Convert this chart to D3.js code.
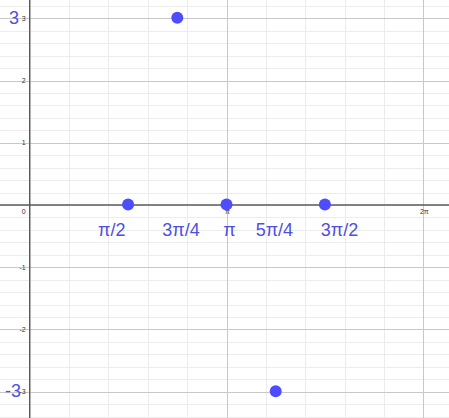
<!DOCTYPE html>
<html>
<head>
<meta charset="utf-8">
<script src="https://cdn.jsdelivr.net/npm/d3@7.9.0/dist/d3.min.js"></script>
<style>
  html, body { margin: 0; padding: 0; background: #fff; }
  svg { display: block; }
</style>
</head>
<body>
<svg id="plot" width="449" height="418"></svg>
<script>
// points, x given as multiples of pi
const pointPi = [0.5, 0.75, 1, 1.25, 1.5];
const pointY = [0, 3, 0, -3, 0];

// text labels placed under the axis (left edge, in multiples of pi)
const labelText = ['π/2', '3π/4', 'π', '5π/4', '3π/2'];
const labelPi = [0.347, 0.674, 0.983, 1.148, 1.479];

// y tick labels
const yTicks = [-3, -2, -1, 1, 2, 3];
const xTickPi = [1, 2];
const xTickText = ['π', '2π'];

const width = 449, height = 418;
const PI = Math.PI;

const x = d3.scaleLinear().domain([0, 2 * PI]).range([29.7, 423.3]);
const y = d3.scaleLinear().domain([0, 3]).range([205, 18.3]);

const svg = d3.select('#plot');

// grid
const xMin = x.invert(0), xMax = x.invert(width);
const yMin = y.invert(height), yMax = y.invert(0);

let minorX = d3.range(Math.ceil(xMin / (PI / 5)), Math.floor(xMax / (PI / 5)) + 1).map(k => k * PI / 5);
let minorY = d3.range(Math.ceil(yMin / 0.2), Math.floor(yMax / 0.2) + 1).map(k => k * 0.2);

const grid = svg.append('g').attr('shape-rendering', 'crispEdges');
grid.selectAll('.mx').data(minorX).join('line')
  .attr('x1', d => Math.round(x(d)) + 0.5).attr('x2', d => Math.round(x(d)) + 0.5)
  .attr('y1', 0).attr('y2', height)
  .attr('stroke', '#ececec');
grid.selectAll('.my').data(minorY).join('line')
  .attr('y1', d => Math.round(y(d)) + 0.5).attr('y2', d => Math.round(y(d)) + 0.5)
  .attr('x1', 0).attr('x2', width)
  .attr('stroke', '#ececec');

// major lines
grid.selectAll('.Mx').data(xTickPi).join('line')
  .attr('x1', d => Math.round(x(d * PI)) + 0.5).attr('x2', d => Math.round(x(d * PI)) + 0.5)
  .attr('y1', 0).attr('y2', height)
  .attr('stroke', '#c8c8c8');
grid.selectAll('.My').data(yTicks).join('line')
  .attr('y1', d => Math.round(y(d)) + 0.5).attr('y2', d => Math.round(y(d)) + 0.5)
  .attr('x1', 0).attr('x2', width)
  .attr('stroke', '#c8c8c8');

// axes
svg.append('line')
  .attr('x1', 0).attr('x2', width)
  .attr('y1', y(0)).attr('y2', y(0))
  .attr('stroke', '#5a5a5a').attr('stroke-width', 1.4);
svg.append('line')
  .attr('x1', x(0)).attr('x2', x(0))
  .attr('y1', 0).attr('y2', height)
  .attr('stroke', '#5a5a5a').attr('stroke-width', 1.4);

// axis numbers
const tickFont = 'Liberation Sans, Arial, sans-serif';
svg.selectAll('.yt').data(yTicks.concat([0])).join('text')
  .attr('x', x(0) - 4)
  .attr('y', d => d === 0 ? y(0) + 9 : y(d) + 2.5)
  .attr('text-anchor', 'end')
  .attr('font-family', tickFont)
  .attr('font-size', 7)
  .attr('fill', '#333')
  .text(d => d);

svg.selectAll('.xt').data(xTickPi).join('text')
  .attr('x', d => x(d * PI) + 1)
  .attr('y', y(0) + 9)
  .attr('text-anchor', 'middle')
  .attr('font-family', tickFont)
  .attr('font-size', 7)
  .attr('fill', '#333')
  .text((d, i) => xTickText[i]);

// points
svg.selectAll('.pt').data(pointPi).join('circle')
  .attr('cx', d => x(d * PI))
  .attr('cy', (d, i) => y(pointY[i]) - 0.5)
  .attr('r', 6)
  .attr('fill', '#4d4dff');

// labels
const labelColor = '#4f4fe0';
svg.selectAll('.lb').data(labelText).join('text')
  .attr('x', (d, i) => x(labelPi[i] * PI))
  .attr('y', 235.5)
  .attr('font-family', tickFont)
  .attr('font-size', 18)
  .attr('fill', labelColor)
  .text(d => d);

svg.append('text')
  .attr('x', 9)
  .attr('y', y(3) + 6)
  .attr('font-family', tickFont)
  .attr('font-size', 18)
  .attr('fill', labelColor)
  .text('3');

svg.append('text')
  .attr('x', 5)
  .attr('y', y(-3) + 5.5)
  .attr('font-family', tickFont)
  .attr('font-size', 18)
  .attr('fill', labelColor)
  .text('-3');
</script>
</body>
</html>
